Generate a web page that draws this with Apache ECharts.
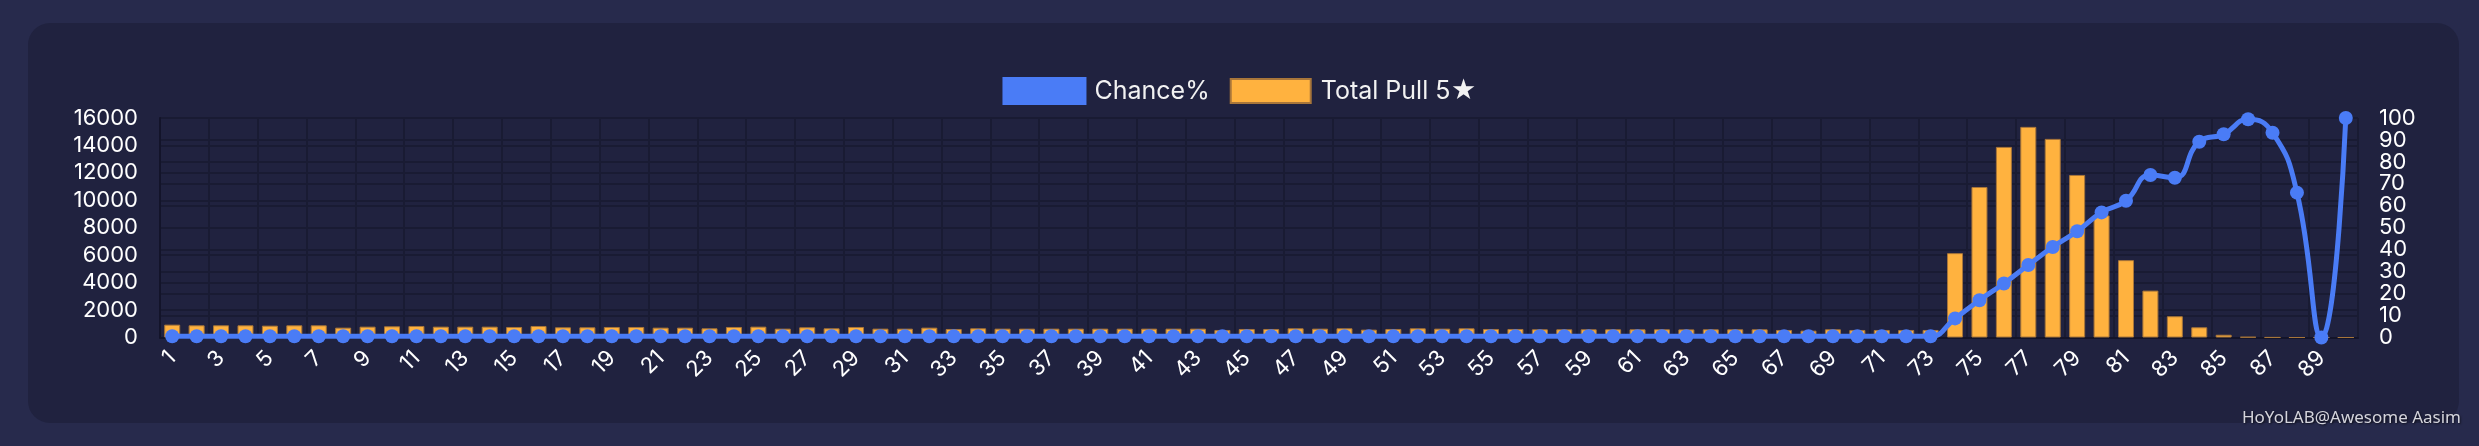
<!DOCTYPE html>
<html>
<head>
<meta charset="utf-8">
<script src="https://cdn.jsdelivr.net/npm/echarts@6/dist/echarts.min.js"></script>
<style>
  html, body { margin: 0; padding: 0; background: #272a4c; width: 2479px; height: 446px; overflow: hidden; }
  #card { position: absolute; left: 28px; top: 23px; width: 2431px; height: 400px; background: #20223f; border-radius: 22px; }
  #chart { position: absolute; left: 0; top: 0; width: 2479px; height: 446px; }
</style>
</head>
<body>
<div id="card"></div>
<div id="chart"></div>
<script>
const categories = [];
for (let i = 1; i <= 90; i++) categories.push(String(i));

const totalPull5 = [
  937, 889, 889, 889, 864, 889, 889, 718, 791, 816,
  840, 791, 791, 791, 767, 840, 743, 743, 767, 767,
  718, 718, 670, 767, 791, 645, 743, 670, 767, 645,
  645, 718, 621, 670, 645, 645, 645, 645, 645, 645,
  645, 645, 645, 548, 621, 621, 670, 645, 670, 572,
  621, 670, 645, 670, 621, 621, 597, 597, 597, 597,
  597, 597, 590, 597, 597, 597, 548, 499, 597, 548,
  548, 548, 548, 6150, 10971, 13893, 15354, 14478, 11848, 8897,
  5639, 3419, 1549, 745, 200, 40, 8, 0, 0, 0
];

const chancePct = [
  0.6, 0.6, 0.6, 0.6, 0.6, 0.6, 0.6, 0.6, 0.6, 0.6,
  0.6, 0.6, 0.6, 0.6, 0.6, 0.6, 0.6, 0.6, 0.6, 0.6,
  0.6, 0.6, 0.6, 0.6, 0.6, 0.6, 0.6, 0.6, 0.6, 0.6,
  0.6, 0.6, 0.6, 0.6, 0.6, 0.6, 0.6, 0.6, 0.6, 0.6,
  0.6, 0.6, 0.6, 0.6, 0.6, 0.6, 0.6, 0.6, 0.6, 0.6,
  0.6, 0.6, 0.6, 0.6, 0.6, 0.6, 0.6, 0.6, 0.6, 0.6,
  0.6, 0.6, 0.6, 0.6, 0.6, 0.6, 0.6, 0.6, 0.6, 0.6,
  0.6, 0.6, 0.6, 8.7, 17, 24.6, 33, 41.2, 48.4, 57,
  62.3, 74, 72.8, 89.2, 92.6, 99.4, 93.3, 66, 0, 100
];

const leftTicks = { min: 0, max: 16000, interval: 2000 };
const rightTicks = { min: 0, max: 100, interval: 10 };

const FONT = 'Inter';
const gridLineColor = '#191b33';

const chart = echarts.init(document.getElementById('chart'), null, { renderer: 'canvas' });
chart.setOption({
  backgroundColor: 'transparent',
  textStyle: { fontFamily: FONT },
  legend: {
    left: 'center',
    top: 72,
    icon: 'rect',
    itemWidth: 80,
    itemHeight: 24,
    itemGap: 20,
    textStyle: { color: '#f2f2f2', fontSize: 25, fontFamily: FONT, padding: [0, 0, 0, 5] },
    data: [
      { name: 'Chance%', itemStyle: { borderColor: '#4a7cf6', borderWidth: 4 } },
      { name: 'Total Pull 5★' }
    ]
  },
  grid: { left: 160, right: 121, top: 118, bottom: 108.5, containLabel: false },
  xAxis: {
    type: 'category',
    data: categories,
    axisLine: { show: true, lineStyle: { color: '#13142a', width: 2 } },
    axisTick: { show: false },
    axisLabel: { color: '#ffffff', fontSize: 22, rotate: 45, interval: 1, margin: 17, fontFamily: FONT, hideOverlap: false },
    splitLine: { show: true, interval: 1, lineStyle: { color: gridLineColor, width: 2 } }
  },
  yAxis: [
    {
      type: 'value', position: 'left',
      min: leftTicks.min, max: leftTicks.max, interval: leftTicks.interval,
      axisLine: { show: true, lineStyle: { color: '#13142a', width: 2 } },
      axisTick: { show: false },
      axisLabel: { color: '#ffffff', fontSize: 22, margin: 22, fontFamily: FONT, formatter: (v) => String(v) },
      splitLine: { show: true, lineStyle: { color: gridLineColor, width: 2 } }
    },
    {
      type: 'value', position: 'right',
      min: rightTicks.min, max: rightTicks.max, interval: rightTicks.interval,
      axisLine: { show: false },
      axisTick: { show: false },
      axisLabel: { color: '#ffffff', fontSize: 22, margin: 21, fontFamily: FONT, formatter: (v) => String(v) },
      splitLine: { show: true, lineStyle: { color: gridLineColor, width: 2 } }
    }
  ],
  series: [
    {
      name: 'Chance%',
      type: 'line',
      yAxisIndex: 1,
      data: chancePct,
      smooth: true,
      symbol: 'circle',
      symbolSize: 14,
      z: 3,
      lineStyle: { color: '#4a7cf6', width: 5 },
      itemStyle: { color: '#4a7cf6' }
    },
    {
      name: 'Total Pull 5★',
      type: 'bar',
      yAxisIndex: 0,
      data: totalPull5,
      barWidth: 16,
      z: 2,
      itemStyle: { color: '#ffb23f', borderColor: '#a8763a', borderWidth: 1 }
    }
  ],
  graphic: [
    {
      type: 'text',
      right: 18,
      top: 410,
      style: {
        text: 'HoYoLAB@Awesome Aasim',
        fill: '#d4d4dc',
        font: '17px "Noto Sans"',
        textShadowColor: 'rgba(0,0,0,0.6)',
        textShadowBlur: 2,
        textShadowOffsetX: 1,
        textShadowOffsetY: 1
      }
    }
  ]
});
</script>
</body>
</html>
